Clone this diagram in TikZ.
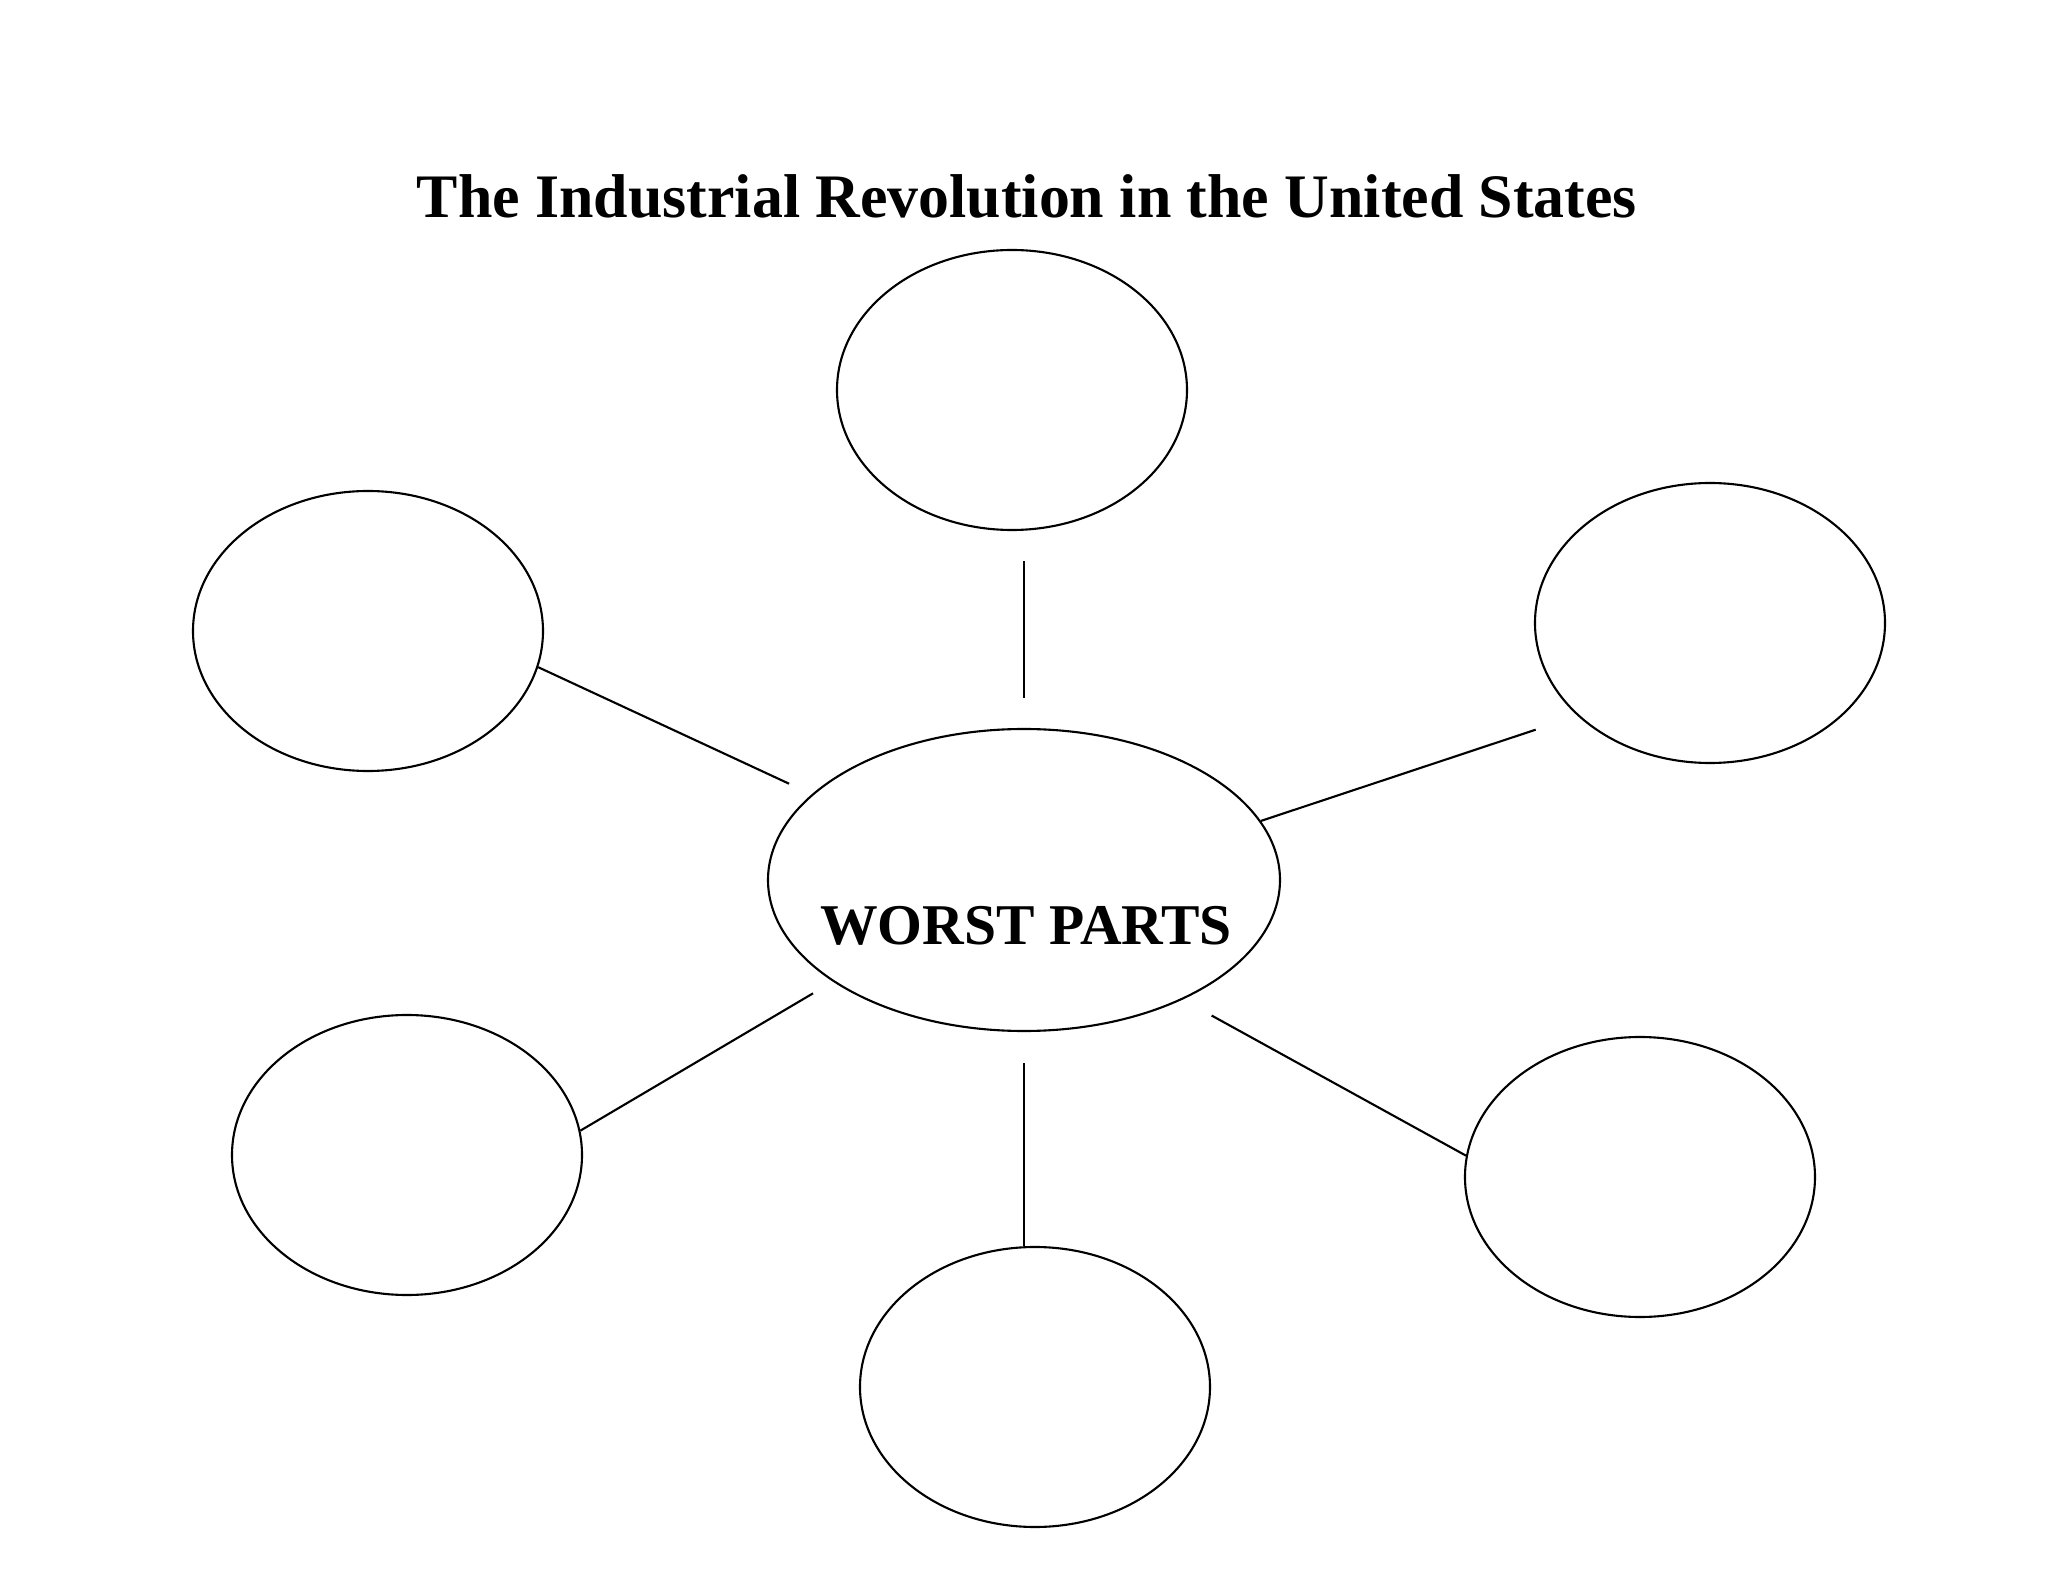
\documentclass[tikz,border=0pt]{standalone}
\usepackage{fontspec}
\setmainfont{Liberation Serif}
\usetikzlibrary{shapes.geometric}
\begin{document}
\begin{tikzpicture}[y=-1cm,line width=0.6pt,
  bubble/.style={ellipse,draw,inner sep=0pt,minimum width=3.5cm,minimum height=2.8cm},
  hub/.style={ellipse,draw,inner sep=0pt,minimum width=5.12cm,minimum height=3.02cm}]
  \useasboundingbox (0,0) rectangle (20.48,15.82);
  \node (title) at (10.27,1.96) {\fontsize{17.6}{20}\selectfont\bfseries The Industrial Revolution in the United States};
  \node[hub] (ctr) at (10.24,8.80) {};
  \node (ctrtxt) at (10.26,9.26) {\fontsize{16.4}{19}\selectfont\bfseries WORST PARTS};
  \node[bubble] (top) at (10.12,3.90) {};
  \node[bubble] (lu) at (3.68,6.31) {};
  \node[bubble] (ru) at (17.10,6.23) {};
  \node[bubble] (ll) at (4.07,11.55) {};
  \node[bubble] (rl) at (16.40,11.77) {};
  \node[bubble] (bot) at (10.35,13.87) {};
  \draw[shorten <=0.3cm,shorten >=0.3cm] (top.south -| ctr.north) -- (ctr.north);
  \draw[shorten <=0.31cm] (ctr.south) -- (bot.north -| ctr.south);
  \draw[shorten >=0.25cm] (lu.-12) -- (ctr.158);
  \draw[shorten >=0.44cm] (ctr.14) -- (ru.215);
  \draw[shorten >=0.23cm] (ll.8) -- (ctr.208);
  \draw[shorten <=0.33cm] (ctr.-37) -- (rl.173);
\end{tikzpicture}
\end{document}
